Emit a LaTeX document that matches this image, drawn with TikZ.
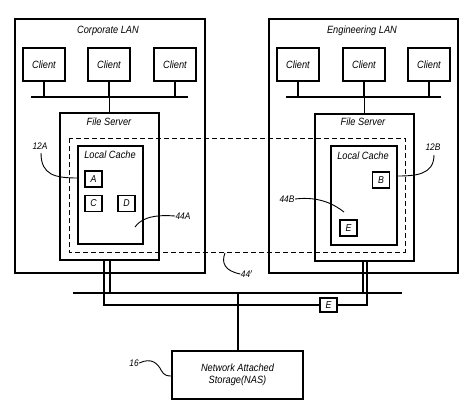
\documentclass[tikz,border=0pt]{standalone}
\usepackage{fontspec}
\setmainfont{Liberation Sans}[FakeStretch=0.88]
\usetikzlibrary{shadows}
\begin{document}
\begin{tikzpicture}[x=1pt,y=-1pt,line width=1.1pt,
  box/.style={draw,rectangle,inner sep=0pt,outer sep=0pt,anchor=north west,fill=white},
  txt/.style={font=\itshape\fontsize{10.5}{12.5}\selectfont,inner sep=0pt},
  lbl/.style={font=\itshape\fontsize{9.5}{11}\selectfont,inner sep=0pt},
  client/.style={draw,rectangle,inner sep=0pt,outer sep=0pt,minimum width=42pt,minimum height=33pt,
    font=\itshape\fontsize{10.5}{12}\selectfont,fill=white,
    general shadow={fill=black,shadow xshift=0.9pt,shadow yshift=-0.9pt}},
  item/.style={draw,rectangle,inner sep=0pt,outer sep=0pt,minimum width=17pt,minimum height=16pt,
    font=\itshape\fontsize{10}{11}\selectfont,fill=white,
    general shadow={fill=black,shadow xshift=0.9pt,shadow yshift=-0.9pt}},
  dsh/.style={dash pattern=on 5pt off 3pt,line width=0.9pt}]
\useasboundingbox (0,0) rectangle (474,413);
% LAN boxes
\node[box,minimum width=190pt,minimum height=254pt] (llan) at (15,19) {};
\node[box,minimum width=189pt,minimum height=254pt] (rlan) at (269,19) {};
\node[txt] (ltitle) at (108,31) {Corporate LAN};
\node[txt] (rtitle) at (362,31) {Engineering LAN};
% clients
\node[client] (c1) at (44,64.5) {Client};
\node[client] (c2) at (109,64.5) {Client};
\node[client] (c3) at (175,64.5) {Client};
\node[client] (c4) at (298,64.5) {Client};
\node[client] (c5) at (364,64.5) {Client};
\node[client] (c6) at (429,64.5) {Client};
% buses
\coordinate (lbusL) at (31,97);
\coordinate (lbusR) at (188,97);
\coordinate (rbusL) at (286,97);
\coordinate (rbusR) at (441,97);
\draw (lbusL) -- (lbusR);
\draw (rbusL) -- (rbusR);
\foreach \c in {c1,c2,c3} \draw (\c.south) -- (\c.south |- lbusL);
\foreach \c in {c4,c5,c6} \draw (\c.south) -- (\c.south |- rbusL);
% file servers
\node[box,minimum width=99pt,minimum height=147pt] (fs1) at (60,113) {};
\node[box,minimum width=99pt,minimum height=147pt] (fs2) at (315,114) {};
\draw (fs1.north) -- (fs1.north |- lbusL);
\draw (fs2.north) -- (fs2.north |- rbusL);
\node[txt] (fs1t) at (109,122) {File Server};
\node[txt] (fs2t) at (363,122) {File Server};
% dashed region
\draw[dsh] (69,138) rectangle (405,252);
% local caches
\node[box,minimum width=65pt,minimum height=98pt] (lc1) at (78,146) {};
\node[box,minimum width=66pt,minimum height=99pt] (lc2) at (331,146) {};
\node[txt] (lc1t) at (110,154.5) {Local Cache};
\node[txt] (lc2t) at (363,155.5) {Local Cache};
% items
\node[item] (A) at (93.5,179) {A};
\node[item] (C) at (93.5,203.5) {C};
\node[item] (D) at (126.5,203.5) {D};
\node[item] (B) at (381,180) {B};
\node[item] (E) at (348.5,228) {E};
% labels
\node[lbl] (l12A) at (40,146) {12A};
\node[lbl] (l12B) at (433,147) {12B};
\node[lbl] (l44A) at (183,216) {44A};
\node[lbl] (l44B) at (287,199) {44B};
\node[lbl] (l44p) at (247,274) {44$'$};
\node[lbl] (l16) at (134,363) {16};
\draw[line width=0.9pt] (41,153) .. controls (41,175) and (55,178) .. (lc1.west |- 0,178);
\draw[line width=0.9pt] (434,155) .. controls (434,175) and (415,176) .. (lc2.east |- 0,176);
\draw[line width=0.9pt] (l44A.west) .. controls (150,214) and (140,220) .. (135,227);
\draw[line width=0.9pt] (l44B.east) .. controls (320,196) and (335,205) .. (344,212);
\draw[line width=0.9pt] (225,253) .. controls (221,263) and (225,271) .. (l44p.west);
% backbone
\coordinate (busL) at (73,293);
\coordinate (busR) at (402,293);
\draw (busL) -- (busR);
\node[item,minimum height=14pt] (E2) at (328.5,305) {E};
\draw (fs1.south -| 110,0) -- (110,293);
\draw (fs2.south -| 363,0) -- (363,293);
\draw (fs1.south -| 104,0) -- (104,305) -- (E2.west);
\draw (E2.east) -- (367,305) -- (fs2.south -| 367,0);
% NAS
\node[box,minimum width=131pt,minimum height=48pt] (nas) at (172,351) {};
\node[txt,align=center] (nast) at (237.5,375) {Network Attached\\Storage(NAS)};
\draw (238,293) -- (nas.north -| 238,0);
\draw[line width=0.9pt] (l16.east) .. controls (152,357) and (158,364) .. (161,370) .. controls (164,376) and (168,376) .. (nas.west |- 0,376);
\end{tikzpicture}
\end{document}
